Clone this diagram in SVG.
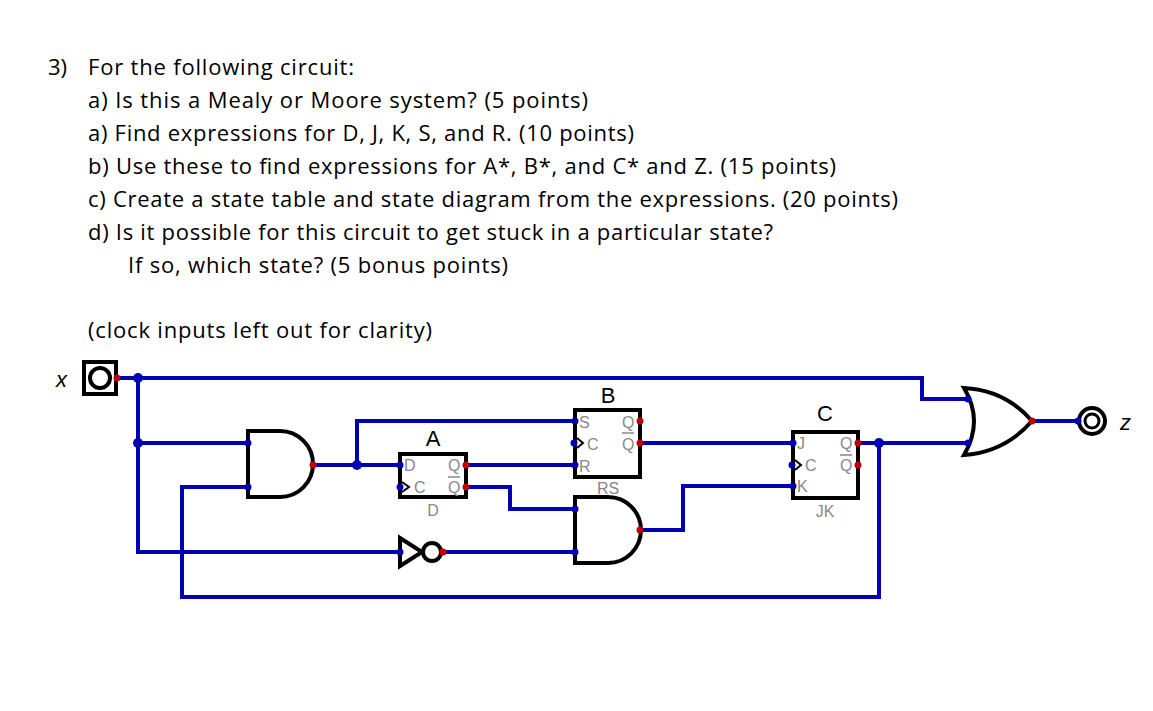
<svg xmlns="http://www.w3.org/2000/svg" width="1153" height="711" viewBox="0 0 1153 711">
<style>
.t{font-family:"Open Sans","Liberation Sans",sans-serif;font-size:22px;fill:#000}
.w{stroke:#0000b0;stroke-width:4;fill:none}
.g{stroke:#000;stroke-width:4;fill:#fff}
.p{font-family:"Liberation Sans",sans-serif;font-size:16px;fill:#888}
.l{font-family:"Liberation Sans",sans-serif;font-size:22px;fill:#000}
.jb{fill:#0000b0}
.jr{fill:#c00000}
</style>
<rect width="1153" height="711" fill="#fff"/>
<g id="question">
<text class="t" x="48" y="75">3)</text>
<text class="t" x="88" y="75" textLength="266">For the following circuit:</text>
<text class="t" x="88" y="108" textLength="500">a) Is this a Mealy or Moore system? (5 points)</text>
<text class="t" x="88" y="141" textLength="546">a) Find expressions for D, J, K, S, and R. (10 points)</text>
<text class="t" x="88" y="174" textLength="748">b) Use these to find expressions for A*, B*, and C* and Z. (15 points)</text>
<text class="t" x="88" y="207" textLength="810">c) Create a state table and state diagram from the expressions. (20 points)</text>
<text class="t" x="88" y="240" textLength="685">d) Is it possible for this circuit to get stuck in a particular state?</text>
<text class="t" x="128" y="273" textLength="380">If so, which state? (5 bonus points)</text>
<text class="t" x="88" y="338" textLength="344">(clock inputs left out for clarity)</text>
</g>
<g id="connectors">
<polyline class="w" points="117,378 922,378 922,399 968,399"/>
<polyline class="w" points="138,378 138,552 400,552"/>
<polyline class="w" points="138,443 248,443"/>
<polyline class="w" points="313,465 400,465"/>
<polyline class="w" points="357,465 357,421 575,421"/>
<polyline class="w" points="248,487 182,487 182,597 879,597 879,443"/>
<polyline class="w" points="466,465 575,465"/>
<polyline class="w" points="466,487 510,487 510,509 575,509"/>
<polyline class="w" points="443,552 575,552"/>
<polyline class="w" points="640,443 793,443"/>
<polyline class="w" points="640,530 683,530 683,486 793,486"/>
<polyline class="w" points="858,443 968,443"/>
<polyline class="w" points="1032,421 1078,421"/>
<circle class="jb" cx="138" cy="378" r="5"/>
<circle class="jb" cx="138" cy="443" r="5"/>
<circle class="jb" cx="357" cy="465" r="5"/>
<circle class="jb" cx="879" cy="443" r="5"/>
</g>
<g id="input-x">
<text class="l" x="56" y="387" font-style="italic">x</text>
<rect x="84" y="362" width="32" height="32" class="g"/>
<circle cx="100" cy="378" r="10" fill="none" stroke="#000" stroke-width="4"/>
<circle class="jr" cx="117" cy="378" r="3.5"/>
</g>
<g id="and1">
<path class="g" d="M248,431 H280 A33,33 0 0 1 280,497 H248 Z"/>
<circle class="jb" cx="248" cy="443" r="3.5"/><circle class="jb" cx="248" cy="487" r="3.5"/>
<circle class="jr" cx="313" cy="465" r="3.5"/>
</g>
<g id="ff-a">
<text class="l" x="433" y="446" text-anchor="middle">A</text>
<rect x="400" y="454" width="66" height="43" stroke="#000" stroke-width="4" fill="#fff"/>
<text class="p" x="404" y="471">D</text>
<text class="p" x="414" y="493">C</text>
<path d="M402,482 L409,487 L402,492" fill="none" stroke="#000" stroke-width="2"/>
<text class="p" x="448" y="471">Q</text>
<text class="p" x="448" y="493">Q</text>
<line x1="448" y1="477" x2="460" y2="477" stroke="#888" stroke-width="1.5"/>
<text class="p" x="433" y="516" text-anchor="middle">D</text>
<circle class="jb" cx="400" cy="465" r="3.5"/><circle class="jb" cx="400" cy="487" r="3.5"/>
<circle class="jr" cx="466" cy="465" r="3.5"/><circle class="jr" cx="466" cy="487" r="3.5"/>
</g>
<g id="not">
<path class="g" d="M400,538 L422,552 L400,566 Z"/>
<circle class="g" cx="432" cy="552" r="9"/>
<circle class="jb" cx="400" cy="552" r="3.5"/>
<circle class="jr" cx="443" cy="552" r="3.5"/>
</g>
<g id="ff-b">
<text class="l" x="608" y="403" text-anchor="middle">B</text>
<rect x="575" y="410" width="65" height="67" stroke="#000" stroke-width="4" fill="#fff"/>
<text class="p" x="579" y="428">S</text>
<text class="p" x="587" y="450">C</text>
<path d="M577,438 L583,443 L577,448" fill="none" stroke="#000" stroke-width="2"/>
<text class="p" x="579" y="472">R</text>
<text class="p" x="622" y="428">Q</text>
<text class="p" x="622" y="450">Q</text>
<line x1="622" y1="433" x2="634" y2="433" stroke="#888" stroke-width="1.5"/>
<text class="p" x="608" y="494" text-anchor="middle">RS</text>
<circle class="jb" cx="575" cy="421" r="3.5"/><circle class="jb" cx="574" cy="443" r="3.5"/><circle class="jb" cx="575" cy="465" r="3.5"/>
<circle class="jr" cx="640" cy="421" r="3.5"/><circle class="jr" cx="640" cy="443" r="3.5"/>
</g>
<g id="and2">
<path class="g" d="M575,497 H608 A33,33 0 0 1 608,563 H575 Z"/>
<circle class="jb" cx="575" cy="509" r="3.5"/><circle class="jb" cx="575" cy="552" r="3.5"/>
<circle class="jr" cx="640" cy="530" r="3.5"/>
</g>
<g id="ff-c">
<text class="l" x="825" y="421" text-anchor="middle">C</text>
<rect x="793" y="432" width="65" height="66" stroke="#000" stroke-width="4" fill="#fff"/>
<text class="p" x="797" y="449">J</text>
<text class="p" x="805" y="471">C</text>
<path d="M795,460 L801,465 L795,470" fill="none" stroke="#000" stroke-width="2"/>
<text class="p" x="797" y="492">K</text>
<text class="p" x="840" y="449">Q</text>
<text class="p" x="840" y="471">Q</text>
<line x1="840" y1="455" x2="852" y2="455" stroke="#888" stroke-width="1.5"/>
<text class="p" x="825" y="517" text-anchor="middle">JK</text>
<circle class="jb" cx="793" cy="443" r="3.5"/><circle class="jb" cx="792" cy="465" r="3.5"/><circle class="jb" cx="793" cy="486" r="3.5"/>
<circle class="jr" cx="858" cy="443" r="3.5"/><circle class="jr" cx="858" cy="465" r="3.5"/>
</g>
<g id="or">
<path class="g" d="M964,388 Q1005,390 1032,421 Q1005,452 964,455 Q984,421 964,388 Z"/>
<circle class="jb" cx="968" cy="399" r="3.5"/><circle class="jb" cx="968" cy="443" r="3.5"/>
<circle class="jr" cx="1032" cy="421" r="3.5"/>
</g>
<g id="output-z">
<circle cx="1092" cy="421" r="13" fill="#fff" stroke="#000" stroke-width="4"/>
<circle cx="1092" cy="421" r="7" fill="none" stroke="#000" stroke-width="3"/>
<circle class="jb" cx="1078" cy="421" r="3.5"/>
<text class="l" x="1120" y="430" font-style="italic">z</text>
</g>
</svg>
